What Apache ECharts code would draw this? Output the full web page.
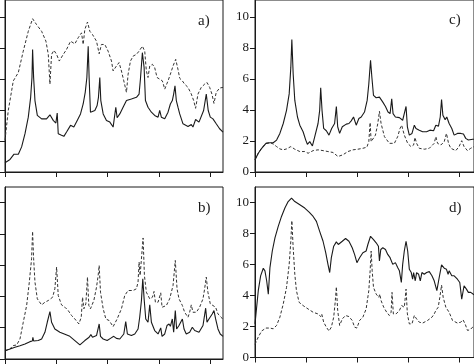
<!DOCTYPE html>
<html style="height: 100%">
<head>
	<meta charset="utf-8">
</head>
<body style="height: 100%; margin: 0; background: #fff">
<div id="container" style="width: 474px; height: 364px"></div>
<script type="text/javascript" src="https://cdn.jsdelivr.net/npm/echarts@6/dist/echarts.min.js"></script>
<script type="text/javascript">
    // panel a) upper dashed + lower solid
    var aDash = [[0,2.05],[3.2,3.97],[8.1,5.88],[13.0,6.42],[17.8,7.80],[22.7,9.08],[26.9,9.89],[30.8,9.51],[35.7,9.08],[39.9,8.44],[42.2,7.59],[43.8,5.67],[45.4,7.59],[47.7,7.85],[50.3,7.59],[52.9,7.16],[56.8,7.59],[60.0,7.91],[63.9,8.44],[68.1,8.27],[71.3,8.66],[74.6,8.98],[76.2,8.23],[77.8,9.19],[80.4,9.68],[82.7,9.08],[85.3,8.87],[89.2,8.44],[91.8,7.63],[94.0,8.23],[97.3,8.23],[100.5,7.80],[103.8,7.16],[105.4,6.52],[108.6,6.84],[111.2,7.06],[113.5,6.52],[115.8,5.88],[118.4,5.14],[120.0,6.31],[122.3,7.16],[124.9,7.48],[128.1,7.59],[130.7,7.80],[133.9,8.12],[136.2,7.80],[137.8,6.52],[139.4,6.10],[141.1,6.84],[143.7,6.95],[145.9,6.74],[148.2,6.10],[150.8,5.99],[153.4,5.88],[155.7,5.35],[158.9,5.88],[161.2,6.31],[163.8,6.84],[166.4,7.27],[168.6,6.63],[170.3,6.05],[172.9,5.88],[175.1,5.67],[178.4,5.46],[181.6,5.03],[183.9,4.61],[185.8,4.11],[188.1,5.03],[191.3,5.46],[194.6,5.67],[196.9,5.78],[199.5,5.46],[201.7,5.03],[203.7,4.43],[205.9,5.14],[209.2,5.42],[212.5,5.46]];
    var aSolid = [[0,0.60],[4.9,0.81],[8.8,1.15],[13.0,1.15],[16.2,1.62],[19.5,2.47],[22.7,3.54],[25.0,4.82],[26.3,6.10],[26.9,7.91],[27.9,6.10],[29.2,4.61],[31.5,3.65],[35.7,3.43],[40.5,3.43],[43.8,3.69],[47.0,3.33],[49.6,3.16],[50.9,3.80],[51.9,2.47],[55.1,2.37],[57.4,2.30],[60.0,2.58],[63.9,3.01],[67.1,2.90],[70.4,3.33],[73.6,3.75],[76.2,4.39],[78.2,5.14],[79.8,6.10],[81.1,8.12],[82.0,6.10],[83.3,3.86],[87.6,3.97],[89.8,4.29],[91.1,4.82],[92.4,6.10],[93.4,4.61],[95.7,3.75],[98.9,3.33],[102.2,3.22],[105.4,2.90],[108.0,4.18],[109.3,3.50],[111.9,3.75],[115.1,4.18],[118.4,4.61],[123.2,4.71],[128.1,4.82],[130.7,5.03],[132.0,5.99],[133.9,7.70],[135.6,6.74],[136.9,4.61],[139.4,4.18],[142.7,3.86],[145.9,3.65],[149.2,3.54],[150.8,3.97],[152.4,3.54],[155.7,3.43],[158.9,3.86],[161.2,4.39],[163.1,4.61],[164.4,5.03],[165.7,5.56],[167.0,4.61],[168.6,4.18],[170.3,3.75],[173.5,3.11],[178.4,2.94],[181.6,3.07],[183.2,2.90],[185.8,3.39],[189.1,3.22],[193.6,3.97],[196.2,5.03],[198.1,3.97],[200.1,3.54],[202.7,3.43],[205.9,3.11],[209.2,2.79],[212.5,2.58]];

    // panel b)
    var bDash = [[0,0.53],[4.9,0.64],[7.5,0.85],[11.4,0.90],[14.6,1.28],[17.8,2.35],[21.1,3.42],[23.7,4.92],[25.9,6.41],[26.9,8.16],[27.9,6.41],[29.2,4.92],[31.5,3.85],[35.7,3.46],[38.9,3.63],[42.2,3.74],[43.8,3.63],[46.4,3.95],[48.6,4.49],[50.3,5.88],[51.9,4.06],[55.1,3.46],[58.4,3.31],[61.6,3.10],[64.9,2.78],[68.1,2.56],[72.0,2.24],[74.3,2.67],[75.6,3.95],[76.9,3.21],[78.8,3.53],[80.4,5.24],[81.7,3.42],[83.3,3.21],[86.6,3.74],[89.2,4.59],[90.8,5.34],[91.8,5.98],[93.1,4.27],[95.7,3.21],[98.3,2.56],[101.5,2.46],[105.4,2.07],[109.3,2.56],[113.5,3.21],[116.7,4.06],[120.0,4.38],[124.9,4.38],[128.1,4.49],[129.7,4.92],[130.7,6.20],[131.7,5.34],[133.0,5.34],[134.6,7.74],[135.9,5.34],[137.8,4.27],[141.1,3.85],[143.7,3.95],[145.3,4.32],[146.6,3.63],[149.2,3.63],[151.8,4.23],[153.1,3.31],[157.3,3.42],[160.5,3.85],[163.8,4.70],[166.0,6.30],[167.7,4.49],[169.6,3.85],[172.9,3.42],[175.1,2.99],[178.4,2.67],[180.0,2.99],[181.6,3.46],[183.2,2.99],[186.5,2.99],[189.7,3.31],[193.0,3.85],[194.6,4.49],[196.2,5.24],[197.8,4.27],[200.1,3.53],[202.7,3.42],[205.3,3.31],[207.6,2.88],[210.8,2.67],[212.5,2.52]];
    var bSolid = [[0,0.53],[4.9,0.64],[9.7,0.75],[14.6,0.85],[19.5,0.96],[24.3,1.11],[26.6,1.15],[27.2,1.39],[27.9,1.15],[32.4,1.18],[35.7,1.28],[38.9,1.71],[41.2,2.35],[43.8,3.03],[45.4,2.35],[48.6,1.92],[53.5,1.71],[58.4,1.58],[63.2,1.45],[68.1,1.18],[73.0,0.90],[77.8,1.18],[82.0,1.39],[83.7,1.56],[85.3,1.39],[89.2,1.50],[91.8,2.24],[93.1,1.45],[95.7,1.28],[99.6,1.18],[102.8,1.32],[106.0,1.45],[108.6,1.32],[111.9,1.28],[115.8,1.60],[117.7,2.39],[119.3,1.60],[123.2,1.50],[126.5,1.60],[129.7,1.92],[131.3,2.67],[133.0,3.74],[134.3,5.13],[135.6,3.85],[137.2,2.56],[139.4,2.35],[141.1,3.46],[142.7,2.35],[145.9,1.82],[149.2,1.60],[150.8,1.50],[151.8,1.99],[153.1,1.45],[155.7,1.60],[157.9,2.14],[159.9,2.24],[161.2,2.09],[163.1,2.56],[164.4,1.71],[166.0,3.10],[167.3,1.92],[169.6,2.14],[172.9,2.56],[174.5,1.92],[176.7,1.60],[180.0,1.71],[182.6,2.03],[184.9,1.82],[189.1,1.71],[193.0,2.14],[195.6,3.25],[196.9,2.35],[198.8,2.56],[200.4,2.67],[202.0,2.88],[203.7,3.10],[205.3,2.56],[207.6,1.92],[209.8,1.60],[212.5,1.45]];

    // panel c)
    var cDash = [[0,0.79],[3.2,1.21],[6.5,1.53],[10.7,1.85],[14.6,1.89],[17.8,1.81],[21.1,1.64],[24.3,1.49],[27.6,1.43],[30.8,1.49],[35.0,1.64],[38.9,1.47],[43.8,1.32],[48.6,1.32],[51.9,1.21],[56.8,1.38],[61.6,1.43],[66.5,1.38],[71.3,1.32],[76.2,1.26],[81.1,1.00],[85.9,1.11],[90.8,1.32],[95.7,1.43],[100.5,1.47],[105.4,1.53],[109.3,1.60],[111.2,1.96],[112.5,3.19],[113.5,1.96],[115.1,2.06],[117.7,2.38],[120.0,3.13],[121.6,3.92],[123.2,3.13],[126.5,2.28],[131.3,1.85],[136.2,1.85],[139.4,2.28],[141.7,2.81],[143.3,3.02],[145.9,2.38],[149.2,1.85],[152.4,1.64],[155.0,1.74],[156.3,2.23],[157.9,1.85],[160.5,1.53],[165.4,1.47],[170.3,1.53],[175.1,1.85],[176.7,2.28],[178.4,1.85],[181.6,1.74],[184.9,1.96],[187.1,2.49],[189.1,1.85],[191.3,1.53],[196.2,1.38],[199.4,1.64],[202.0,2.02],[204.3,1.64],[207.6,1.38],[210.8,1.53],[212.7,1.64],[214,1.64]];
    var cSolid = [[0,0.79],[3.2,1.21],[6.5,1.53],[10.7,1.85],[14.6,1.89],[17.8,1.89],[21.1,2.06],[24.3,2.49],[27.6,3.13],[30.8,3.98],[33.4,5.04],[35.0,6.75],[36.0,8.55],[37.3,6.32],[38.9,4.62],[41.5,3.55],[43.8,3.02],[47.0,2.60],[49.6,2.06],[51.2,1.79],[53.5,1.96],[56.1,1.68],[58.4,2.28],[61.6,3.13],[63.2,3.98],[64.2,5.43],[65.5,3.98],[67.1,2.81],[69.7,2.66],[72.3,2.38],[74.9,2.81],[77.8,3.13],[79.5,4.23],[80.8,2.92],[82.7,2.49],[85.3,2.92],[89.2,3.09],[91.8,3.13],[94.0,3.30],[96.3,3.55],[98.9,3.02],[101.5,3.45],[103.8,3.55],[107.0,3.87],[109.6,4.62],[111.2,5.68],[112.9,7.21],[114.2,6.11],[115.8,4.94],[118.4,4.79],[121.6,4.83],[124.9,4.51],[127.5,4.23],[130.0,3.87],[132.0,3.77],[133.6,4.72],[134.9,3.77],[137.2,3.55],[141.1,3.51],[144.3,3.34],[145.9,3.34],[147.6,4.23],[148.9,2.92],[150.8,2.38],[153.4,2.49],[155.7,3.02],[157.3,2.81],[160.5,2.70],[163.8,2.60],[167.7,2.60],[170.9,2.70],[174.5,2.66],[176.7,3.02],[179.3,2.96],[181.0,3.55],[182.3,4.68],[183.6,3.66],[185.8,3.38],[187.4,3.55],[189.7,3.13],[192.3,2.81],[194.6,2.38],[197.8,2.49],[201.1,2.49],[203.7,2.45],[205.9,2.17],[208.5,2.06],[212.7,2.11],[214,2.11]];

    // panel d)
    var dSolid = [[0,2.17],[1.6,3.24],[3.2,4.31],[5.5,5.27],[8.1,5.76],[9.7,5.59],[11.4,4.95],[13.0,4.09],[14.6,5.80],[16.9,6.87],[19.5,7.72],[22.7,8.46],[25.9,9.10],[29.2,9.64],[32.4,10.06],[35.7,10.28],[38.9,10.06],[43.8,9.85],[48.6,9.64],[52.9,9.38],[56.8,9.10],[60.0,8.78],[63.2,8.14],[66.5,7.50],[69.1,6.76],[71.3,6.01],[73.0,5.48],[74.6,6.44],[76.9,7.18],[79.5,7.46],[81.4,7.29],[83.3,7.18],[85.3,7.50],[88.5,7.68],[91.8,7.50],[95.0,7.08],[97.3,6.65],[99.6,6.12],[102.2,6.44],[105.4,6.76],[108.6,6.87],[110.3,7.29],[112.9,7.82],[115.8,7.61],[118.4,7.40],[120.6,7.18],[121.6,6.23],[122.9,6.97],[124.9,7.08],[127.5,6.97],[129.7,6.65],[132.0,6.44],[134.6,6.01],[137.2,6.12],[139.4,5.80],[141.1,5.59],[143.0,4.84],[144.3,6.01],[145.9,6.87],[147.6,7.50],[149.2,6.87],[150.8,5.69],[152.7,5.48],[154.0,5.05],[155.0,5.48],[156.6,4.95],[157.9,5.48],[159.9,5.37],[161.5,4.95],[163.1,5.48],[165.4,5.37],[167.7,5.48],[170.3,5.54],[172.9,5.27],[175.1,4.95],[177.7,4.31],[180.0,5.16],[182.3,5.97],[184.9,5.76],[187.1,5.69],[188.7,5.37],[189.7,5.59],[192.3,5.27],[194.6,5.27],[197.8,5.05],[200.1,4.84],[202.0,3.77],[204.3,4.63],[206.6,4.41],[208.5,4.20],[210.8,4.20],[212.7,4.09],[214,4.05]];
    var dDash = [[0,0.85],[3.2,1.32],[6.5,1.71],[10.7,1.90],[14.6,1.90],[17.8,1.85],[21.1,2.07],[24.3,2.60],[27.6,3.45],[30.8,4.52],[33.4,6.01],[35.0,7.50],[36.0,8.83],[37.3,7.08],[38.9,5.37],[40.5,4.31],[43.1,3.56],[47.0,3.35],[51.9,3.13],[56.8,2.92],[61.6,2.81],[64.2,2.64],[65.2,2.81],[67.1,2.28],[69.7,1.96],[72.3,1.71],[74.6,1.96],[76.9,2.60],[78.5,3.67],[79.5,4.56],[80.8,3.03],[82.7,2.07],[85.3,2.49],[88.5,2.71],[91.8,2.64],[95.0,2.39],[97.3,1.96],[99.6,1.90],[102.2,2.39],[105.4,2.60],[108.6,3.13],[111.2,4.31],[112.5,5.59],[113.5,6.87],[114.5,5.59],[115.8,4.52],[118.4,4.09],[121.0,3.88],[121.9,4.09],[123.2,3.67],[125.8,3.24],[128.7,2.92],[131.3,2.71],[133.0,2.92],[133.9,4.20],[135.2,2.81],[137.8,2.81],[141.1,3.03],[143.3,3.35],[145.9,3.24],[147.6,4.41],[148.9,2.81],[150.8,2.17],[153.4,2.17],[155.7,2.71],[157.9,2.49],[160.5,2.28],[163.8,2.22],[168.6,2.39],[172.9,2.60],[175.1,2.81],[176.7,3.03],[179.0,3.24],[180.6,3.88],[182.3,4.67],[183.9,3.88],[186.5,3.24],[189.7,2.92],[193.0,2.39],[197.8,2.22],[201.1,2.28],[203.3,2.43],[205.3,2.17],[207.6,1.75],[210.2,1.79],[212.7,1.96],[214,1.96]];

    var xTicks = [0, 50, 100, 150, 200];
    var yTicks = [0, 2, 4, 6, 8, 10];
    var panelNames = ['a)', 'b)', 'c)', 'd)'];

    var dom = document.getElementById("container");
    var myChart = echarts.init(dom);
    var ink = '#1a1a1a';
    var serif = 'Liberation Serif';

    function xAxisFor(idx, max) {
        return {
            type: 'value', gridIndex: idx, min: 0, max: max,
            axisLine: {show: true, lineStyle: {color: ink, width: 1}},
            axisTick: {show: true, inside: false, length: 5, customValues: xTicks, lineStyle: {color: ink}},
            axisLabel: {show: false},
            splitLine: {show: false}
        };
    }

    function yAxisFor(idx, max, labels) {
        return {
            type: 'value', gridIndex: idx, min: 0, max: max,
            axisLine: {show: true, lineStyle: {color: ink, width: 1}},
            axisTick: {show: true, inside: false, length: 5, customValues: yTicks, lineStyle: {color: ink}},
            axisLabel: {show: labels, customValues: yTicks, margin: 6, color: ink, fontFamily: serif, fontSize: 13},
            splitLine: {show: false}
        };
    }

    function lineSeries(idx, data, dashed) {
        return {
            type: 'line', xAxisIndex: idx, yAxisIndex: idx, data: data,
            symbol: 'none', silent: true, animation: false,
            lineStyle: {color: dashed ? '#333' : ink, width: dashed ? 1 : 1.1, type: dashed ? [3, 2] : 'solid'}
        };
    }

    var gridBox = {show: true, borderColor: ink, borderWidth: 1, backgroundColor: 'transparent', containLabel: false};

    var option = {
        backgroundColor: '#fff',
        animation: false,
        grid: [
            Object.assign({left: 5, top: -1.5, width: 218, height: 173.5}, gridBox),
            Object.assign({left: 5, top: 187, width: 218, height: 172}, gridBox),
            Object.assign({left: 255, top: -1.5, width: 220, height: 173.5}, gridBox),
            Object.assign({left: 255, top: 187, width: 220, height: 172}, gridBox)
        ],
        xAxis: [xAxisFor(0, 212.5), xAxisFor(1, 212.5), xAxisFor(2, 214), xAxisFor(3, 214)],
        yAxis: [yAxisFor(0, 11.1, false), yAxisFor(1, 11, false), yAxisFor(2, 11.1, true), yAxisFor(3, 11, true)],
        graphic: [
            {type: 'text', left: 198, top: 14, style: {text: panelNames[0], font: '15px ' + serif, fill: ink}},
            {type: 'text', left: 198, top: 201, style: {text: panelNames[1], font: '15px ' + serif, fill: ink}},
            {type: 'text', left: 449, top: 13, style: {text: panelNames[2], font: '15px ' + serif, fill: ink}},
            {type: 'text', left: 449, top: 201, style: {text: panelNames[3], font: '15px ' + serif, fill: ink}}
        ],
        series: [
            lineSeries(0, aDash, true), lineSeries(0, aSolid, false),
            lineSeries(1, bDash, true), lineSeries(1, bSolid, false),
            lineSeries(2, cDash, true), lineSeries(2, cSolid, false),
            lineSeries(3, dDash, true), lineSeries(3, dSolid, false)
        ]
    };

    myChart.setOption(option);
</script>
</body>
</html>
